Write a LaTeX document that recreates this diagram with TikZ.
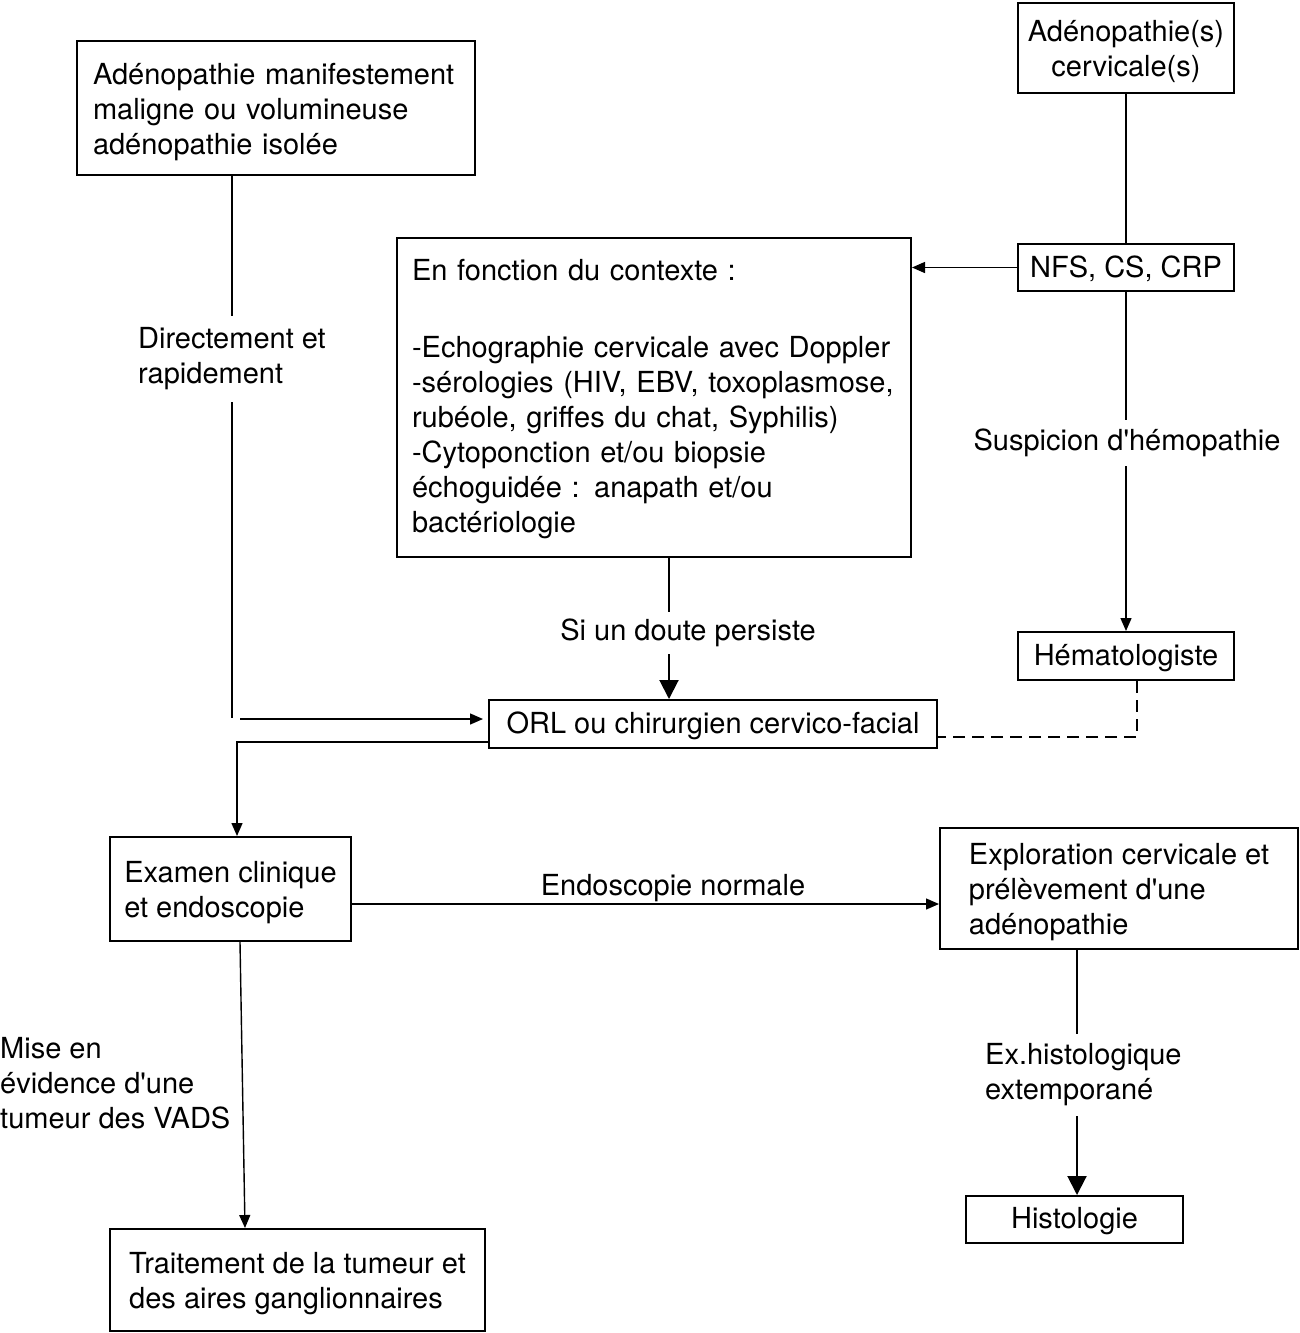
\documentclass[tikz,border=0pt]{standalone}
\usepackage{fontspec}
\setmainfont{TeX Gyre Heros}
\usetikzlibrary{arrows.meta}
\newcommand\apos{\textquotesingle}
\newcommand\tallstrut{\rule{0pt}{29pt}}
\newcommand\midstrut{\rule{0pt}{25pt}}
\begin{document}
\begin{tikzpicture}[x=1pt,y=-1pt,
 every node/.style={font=\fontsize{29}{35}\selectfont},
 box/.style={draw, line width=2pt, align=left, inner sep=0pt},
 lbl/.style={align=left, inner xsep=0pt, inner ysep=8pt},
 conn/.style={line width=1.5pt},
 thick conn/.style={line width=2pt},
 thinarrow/.style={line width=1.4pt, -{Triangle[length=13pt,width=11pt]}},
 bigarrow/.style={line width=2pt, -{Triangle[length=19pt,width=19pt]}},
 dashconn/.style={line width=2.8pt, dash pattern=on 12pt off 7pt},
]
\useasboundingbox (0,0) rectangle (1300,1333);

% boxes
\node[box, text width=366pt, inner xsep=16pt, minimum height=134pt] (A) at (276,108)
  {\tallstrut Adénopathie manifestement\\maligne ou volumineuse\\adénopathie isolée};
\node[box, align=center, minimum width=216pt, minimum height=90pt] (B) at (1126,48)
  {\tallstrut Adénopathie(s)\\cervicale(s)};
\node[box, minimum width=216pt, minimum height=47pt] (C) at (1126,267.5) {\midstrut NFS, CS, CRP};
\node[box, text width=484pt, inner xsep=15pt, minimum height=319pt] (D) at (654,397.5)
  {\rule{0pt}{25pt}En fonction du contexte :\\[42pt]
   -Echographie cervicale avec Doppler\\
   -sérologies (HIV, EBV, toxoplasmose,\\
   rubéole, griffes du chat, Syphilis)\\
   -Cytoponction et/ou biopsie\\
   échoguidée : anapath et/ou\\
   bactériologie};
\node[box, minimum width=216pt, minimum height=48pt] (E) at (1126,656) {\midstrut Hématologiste};
\node[box, minimum width=448pt, minimum height=48pt] (F) at (713,724) {\midstrut ORL ou chirurgien cervico-facial};
\node[box, minimum width=241pt, minimum height=104pt] (G) at (230.5,889)
  {\tallstrut Examen clinique\\et endoscopie};
\node[box, minimum width=358pt, minimum height=121pt] (H) at (1119,888.5)
  {\tallstrut Exploration cervicale et\\prélèvement d\apos une\\adénopathie};
\node[box, minimum width=217pt, minimum height=47pt] (I) at (1074.5,1219.5) {\midstrut Histologie};
\node[box, minimum width=375pt, minimum height=102pt] (J) at (297.5,1280)
  {\tallstrut Traitement de la tumeur et\\des aires ganglionnaires};

% labels
\node[lbl, anchor=west, inner ysep=12pt] (lD) at (138,359) {Directement et\\rapidement};
\node[lbl, inner ysep=9pt] (lS) at (1127,443) {Suspicion d\apos hémopathie};
\node[lbl, inner ysep=7pt] (lSi) at (688,633) {Si un doute persiste};
\node[lbl] (lEn) at (673,888) {Endoscopie normale};
\node[lbl, anchor=west] (lM) at (0,1083) {Mise en\\évidence d\apos une\\tumeur des VADS};
\node[lbl, anchor=west, inner ysep=10pt] (lEx) at (985,1075) {Ex.histologique\\extemporané};

% coordinates
\coordinate (dx) at ([xshift=156pt]A.south west);
\coordinate (c1) at (dx |- 0,718);
\coordinate (c2) at (240,719);
\coordinate (c3) at (237,742);
\coordinate (dd) at ([xshift=15pt]D.south);
\coordinate (hx) at ([xshift=-42pt]H.south);

% connectors
\draw[thick conn] (B.south) -- (C.north);
\draw[thinarrow] (C.west) -- (C.west -| D.east);
\draw[conn] (C.south) -- (C.south |- lS.north);
\draw[thinarrow] (C.south |- lS.south) -- (C.south |- E.north);

\draw[thick conn] (dx) -- (dx |- lD.north);
\draw[thick conn] (dx |- lD.south) -- (c1);
\draw[thinarrow, shorten >=5pt] (c2) -- (c2 -| F.west);
\draw[thinarrow] (c3 -| F.west) -- (c3) -- (c3 |- G.north);

\draw[thick conn] (dd) -- (dd |- lSi.north);
\draw[bigarrow] (dd |- lSi.south) -- (dd |- F.north);

\draw[dashconn] ([xshift=11pt]E.south) |- ([yshift=-13pt]F.east);

\draw[thinarrow] ([yshift=-15pt]G.east) -- ([yshift=-15pt]G.east -| H.west);
\draw[thinarrow] ([xshift=9.5pt]G.south) -- ([xshift=-52.5pt]J.north);

\draw[thick conn] (hx) -- (hx |- lEx.north);
\draw[bigarrow] (hx |- lEx.south) -- (hx |- I.north);
\end{tikzpicture}
\end{document}
